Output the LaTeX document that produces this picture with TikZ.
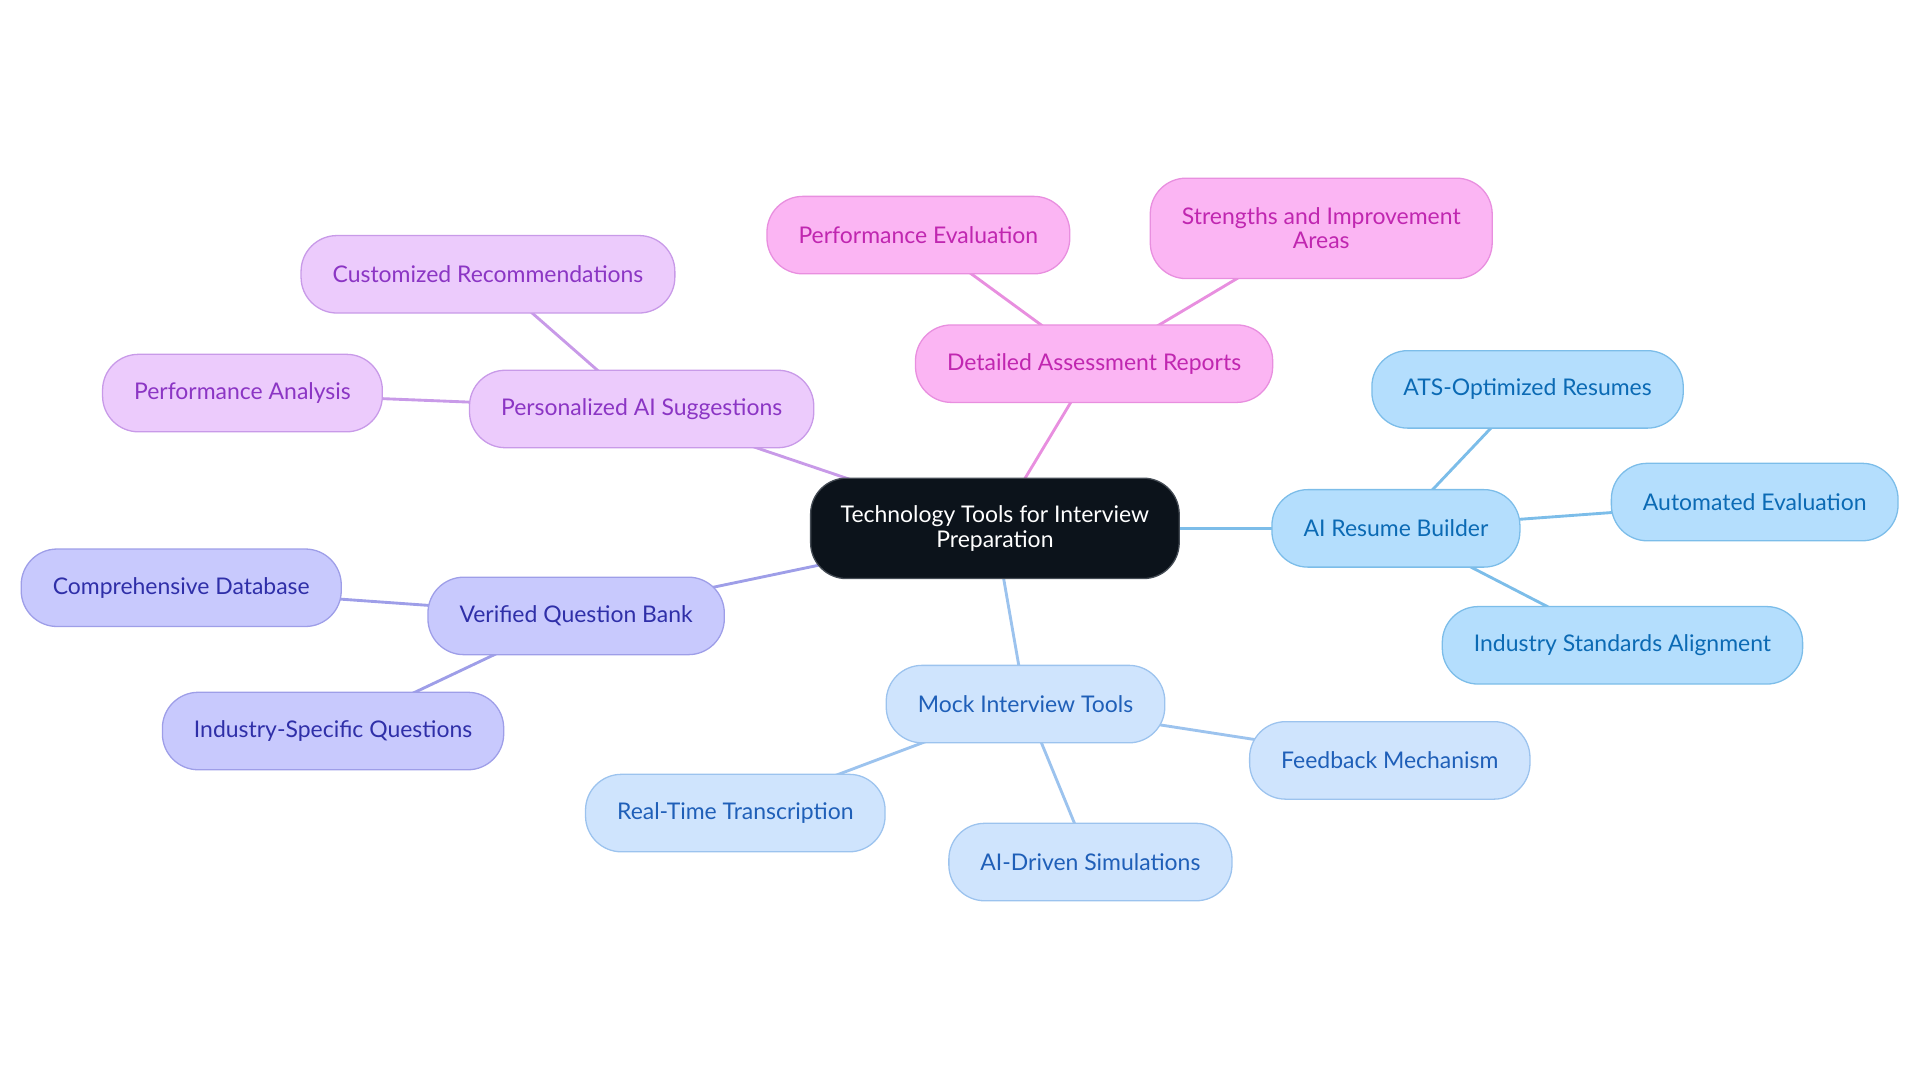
\documentclass[tikz,border=0pt]{standalone}
\usepackage{fontspec}
\setmainfont{Lato}
\usetikzlibrary{backgrounds}
\usepackage{xcolor}

% 各分支的颜色
\definecolor{hubfill}{HTML}{0C131B}
\definecolor{hubline}{HTML}{454C55}
\definecolor{pinkfill}{HTML}{FBB5F3}
\definecolor{pinkline}{HTML}{E88FDF}
\definecolor{pinktext}{HTML}{C026B0}
\definecolor{lilafill}{HTML}{ECCBFC}
\definecolor{lilaline}{HTML}{C89AE8}
\definecolor{lilatext}{HTML}{8B35C4}
\definecolor{perifill}{HTML}{C8C9FD}
\definecolor{periline}{HTML}{9E9EE8}
\definecolor{peritext}{HTML}{2F2FA8}
\definecolor{mockfill}{HTML}{CFE4FD}
\definecolor{mockline}{HTML}{9CC3EE}
\definecolor{mocktext}{HTML}{1F5FB8}
\definecolor{skyfill}{HTML}{B4DEFD}
\definecolor{skyline}{HTML}{7CBDE9}
\definecolor{skytext}{HTML}{0B6AB4}

\begin{document}
\begin{tikzpicture}[x=0.03cm, y=-0.03cm]
        % 定义样式:圆角框
        \tikzstyle{box}=[rounded corners=25pt, line width=0.9pt, minimum height=54pt, inner xsep=22pt, font=\fontsize{16}{17}\selectfont, align=center]
        \tikzstyle{tallbox}=[minimum height=70pt]
        \tikzstyle{hub}=[box, tallbox, fill=hubfill, draw=hubline, text=white, inner xsep=21pt]
        \tikzstyle{pinkbox}=[box, fill=pinkfill, draw=pinkline, text=pinktext]
        \tikzstyle{lilabox}=[box, fill=lilafill, draw=lilaline, text=lilatext]
        \tikzstyle{peribox}=[box, fill=perifill, draw=periline, text=peritext]
        \tikzstyle{mockbox}=[box, fill=mockfill, draw=mockline, text=mocktext]
        \tikzstyle{skybox}=[box, fill=skyfill, draw=skyline, text=skytext]
        \tikzstyle{link}=[line width=2pt]

        \useasboundingbox (0,0) rectangle (1568,884.5);

        % 中心节点
        \node[hub] (hub) at (812.5,431.5) {Technology Tools for Interview\\Preparation};

        % 分支节点
        \node[pinkbox] (dar) at (893.5,297) {Detailed Assessment Reports};
        \node[lilabox] (pas) at (524,334) {Personalized AI Suggestions};
        \node[peribox] (vqb) at (470.5,503) {Verified Question Bank};
        \node[mockbox] (mit) at (837.5,575) {Mock Interview Tools};
        \node[skybox] (arb) at (1140,431.5) {AI Resume Builder};

        % 叶子节点
        \node[pinkbox] (pe) at (750,192) {Performance Evaluation};
        \node[pinkbox, tallbox] (sia) at (1079,186.5) {Strengths and Improvement\\Areas};
        \node[lilabox] (cr) at (398.5,224) {Customized Recommendations};
        \node[lilabox] (pa) at (198,321) {Performance Analysis};
        \node[peribox] (cd) at (148,480) {Comprehensive Database};
        \node[peribox] (isq) at (272,597) {Industry-Specific Questions};
        \node[mockbox] (rtt) at (600.5,664) {Real-Time Transcription};
        \node[mockbox] (ads) at (890.5,704) {AI-Driven Simulations};
        \node[mockbox] (fm) at (1135,621) {Feedback Mechanism};
        \node[skybox] (ats) at (1247.5,318) {ATS-Optimized Resumes};
        \node[skybox] (ae) at (1433,410) {Automated Evaluation};
        \node[skybox] (isa) at (1325,527) {Industry Standards Alignment};

        % 连线 (放在节点下面)
        \begin{scope}[on background layer]
            \draw[link, pinkline] (hub.center) -- (dar.center);
            \foreach \t in {pe, sia} \draw[link, pinkline] (dar.center) -- (\t.center);
            \draw[link, lilaline] (hub.center) -- (pas.center);
            \foreach \t in {cr, pa} \draw[link, lilaline] (pas.center) -- (\t.center);
            \draw[link, periline] (hub.center) -- (vqb.center);
            \foreach \t in {cd, isq} \draw[link, periline] (vqb.center) -- (\t.center);
            \draw[link, mockline] (hub.center) -- (mit.center);
            \foreach \t in {rtt, ads, fm} \draw[link, mockline] (mit.center) -- (\t.center);
            \draw[link, skyline] (hub.center) -- (arb.center);
            \foreach \t in {ats, ae, isa} \draw[link, skyline] (arb.center) -- (\t.center);
        \end{scope}
\end{tikzpicture}
\end{document}
